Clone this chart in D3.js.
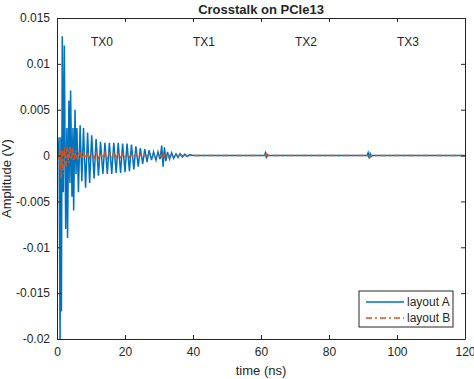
<head>
    <meta charset="utf-8">
    <script src="https://cdn.jsdelivr.net/npm/d3@7"></script>
    <style>
        body { margin: 0; background: #fff; }
        svg text { font-family: "Liberation Sans", Arial, sans-serif; fill: #262626; }
    </style>
</head>

<body>
    <div id="chart"></div>
</body>

<script>
    // series: [time ns, amplitude V]
    const layoutA = [
        [0, 0], [0.4, 0], [0.6, 0.002], [0.9, -0.0205], [1.15, 0.002], [1.3, -0.017],
        [1.55, 0.013], [1.85, -0.004], [2.15, 0.012], [2.55, -0.008], [2.9, 0.003],
        [3.1, -0.009], [3.5, 0.006], [3.8, -0.003], [4.0, 0.0071], [4.4, -0.0045],
        [4.7, 0.003], [4.9, -0.006], [5.3, 0.005], [5.6, -0.002], [5.85, 0.003],
        [6.3, -0.004], [6.8, 0.0033], [7.3, -0.0028], [7.8, 0.003], [8.4, -0.0035],
        [9.0, 0.0025], [9.6, -0.003], [10.2, 0.0022], [10.9, -0.0025], [11.5, 0.0018],
        [12.2, -0.0022], [12.8, 0.0015], [13.5, -0.002], [14.1, 0.0014], [14.8, -0.002],
        [15.4, 0.0014], [16.1, -0.002], [16.7, 0.0014], [17.4, -0.0019], [18.0, 0.0014],
        [18.7, -0.0019], [19.3, 0.0013], [20.0, -0.0018], [20.6, 0.0013], [21.3, -0.0017],
        [21.9, 0.0012], [22.6, -0.0015], [23.2, 0.001], [23.9, -0.0012], [24.5, 0.0008],
        [25.2, -0.0009], [25.8, 0.0007], [26.5, -0.0007], [27.1, 0.0006], [27.8, -0.0005],
        [28.4, 0.0004], [29.1, -0.0005], [29.7, 0.0004], [30.3, -0.0004], [30.8, 0.0011],
        [31.2, -0.0012], [31.6, 0.0009], [32.0, -0.0006], [32.5, 0.0004], [33.1, -0.0004],
        [33.7, 0.0003], [34.3, -0.0003], [35.0, 0.0002], [35.6, -0.0002], [36.2, 0.0002],
        [36.9, -0.00015], [37.6, 0.00015], [38.3, -0.0001], [39.0, 0.0001], [40.0, 0],
        [61.0, 0], [61.3, 0.0003], [61.6, -0.0003], [61.9, 0.0001], [62.2, 0],
        [91.2, 0], [91.5, 0.0003], [91.8, -0.0003], [92.1, 0.0002], [92.4, -0.0001], [92.7, 0],
        [120, 0]
    ];
    const layoutB = [
        [0, 0], [0.5, 0], [0.8, -0.001], [1.0, 0.0008], [1.2, -0.0025], [1.5, 0.0005],
        [1.8, -0.002], [2.2, 0.0009], [2.6, -0.0012], [3.0, 0.001], [3.4, -0.0008],
        [3.8, 0.0011], [4.2, -0.0005], [4.6, 0.0009], [5.0, -0.0006], [5.5, 0.0006],
        [6.0, -0.0004], [6.6, 0.0005], [7.2, -0.0004], [7.8, 0.0004], [8.4, -0.0003],
        [9.0, 0.0003], [9.6, -0.0003], [10.2, 0.0003], [10.9, -0.0003], [11.5, 0.0003],
        [12.2, -0.0003], [12.8, 0.0003], [13.5, -0.0003], [14.1, 0.0003], [14.8, -0.0003],
        [15.4, 0.0003], [16.1, -0.0003], [16.7, 0.0003], [17.4, -0.0002], [18.0, 0.0002],
        [18.7, -0.0002], [19.3, 0.0002], [20.0, -0.0002], [20.6, 0.0002], [21.3, -0.0002],
        [21.9, 0.0002], [22.6, -0.0002], [23.2, 0.0002], [23.9, -0.0002], [24.5, 0.0001],
        [25.2, -0.0001], [26.0, 0], [30.6, 0], [30.9, -0.0004], [31.2, 0.0004],
        [31.5, -0.0003], [31.8, 0.0002], [32.2, 0], [61.2, 0], [61.5, 0.0002],
        [61.8, -0.0002], [62.1, 0], [91.4, 0], [91.7, 0.0002], [92.0, -0.0002], [92.3, 0],
        [120, 0]
    ];
    const xTicks = [0, 20, 40, 60, 80, 100, 120];
    const yTicks = [-0.02, -0.015, -0.01, -0.005, 0, 0.005, 0.01, 0.015];
    const txLabels = ["TX0", "TX1", "TX2", "TX3"];
    const txPos = [10, 40, 70, 100];

    const W = 474, H = 379;
    const m = { left: 57, right: 9, top: 18, bottom: 40 };

    const svg = d3.select("#chart").append("svg")
        .attr("width", W).attr("height", H);

    const x = d3.scaleLinear().domain([0, 120]).range([m.left, W - m.right]);
    const y = d3.scaleLinear().domain([-0.02, 0.015]).range([H - m.bottom, m.top]);

    svg.append("clipPath").attr("id", "clip")
        .append("rect")
        .attr("x", m.left).attr("y", m.top)
        .attr("width", x(120) - m.left).attr("height", y(-0.02) - m.top);

    const line = d3.line().x(d => x(d[0])).y(d => y(d[1]));

    const plot = svg.append("g").attr("clip-path", "url(#clip)");
    plot.append("path").datum(layoutA)
        .attr("d", line).attr("fill", "none")
        .attr("stroke", "#0072BD").attr("stroke-width", 1.5)
        .attr("stroke-linejoin", "miter");
    plot.append("path").datum(layoutB)
        .attr("d", line).attr("fill", "none")
        .attr("stroke", "#D95319").attr("stroke-width", 1.5)
        .attr("stroke-dasharray", "6,3,2,3");

    // axes, MATLAB style box with inward ticks
    const fmt = d => String(+d.toFixed(3));   // plain hyphen like the original
    const axis = (g, gen) => {
        g.call(gen);
        g.select(".domain").attr("stroke", "#262626");
        g.selectAll(".tick line").attr("stroke", "#262626");
        g.selectAll("text").attr("font-size", 12).attr("font-family", "Liberation Sans, Arial, sans-serif").attr("fill", "#262626");
    };
    svg.append("g").attr("transform", `translate(0,${y(-0.02)})`)
        .call(g => axis(g, d3.axisBottom(x).tickValues(xTicks).tickSizeInner(-4).tickSizeOuter(0).tickPadding(8)));
    svg.append("g").attr("transform", `translate(0,${m.top})`)
        .call(g => axis(g, d3.axisTop(x).tickValues(xTicks).tickSizeInner(-4).tickSizeOuter(0).tickFormat("")));
    svg.append("g").attr("transform", `translate(${m.left},0)`)
        .call(g => axis(g, d3.axisLeft(y).tickValues(yTicks).tickSizeInner(-4).tickSizeOuter(0).tickPadding(7).tickFormat(fmt)));
    svg.append("g").attr("transform", `translate(${x(120)},0)`)
        .call(g => axis(g, d3.axisRight(y).tickValues(yTicks).tickSizeInner(-4).tickSizeOuter(0).tickFormat("")));

    // TX labels
    svg.selectAll(".tx").data(txLabels).enter().append("text")
        .attr("x", (d, i) => x(txPos[i]))
        .attr("y", y(0.0124))
        .attr("dy", "0.35em")
        .attr("font-size", 12)
        .text(d => d);

    svg.append("text").attr("x", (m.left + x(120)) / 2).attr("y", 14)
        .attr("text-anchor", "middle").attr("font-size", 13).attr("font-weight", "bold")
        .text("Crosstalk on PCIe13");
    svg.append("text").attr("x", (m.left + x(120)) / 2).attr("y", 375)
        .attr("text-anchor", "middle").attr("font-size", 13)
        .text("time (ns)");
    svg.append("text").attr("transform", `translate(11,${(m.top + y(-0.02)) / 2}) rotate(-90)`)
        .attr("text-anchor", "middle").attr("font-size", 13)
        .text("Amplitude (V)");

    // legend
    const lg = svg.append("g").attr("transform", "translate(359,291)");
    lg.append("rect").attr("width", 94).attr("height", 36)
        .attr("fill", "#fff").attr("stroke", "#262626").attr("stroke-width", 1);
    const items = [["layout A", "#0072BD", null], ["layout B", "#D95319", "6,3,2,3"]];
    items.forEach((it, i) => {
        const yy = 11 + i * 16;
        lg.append("line").attr("x1", 7).attr("x2", 45).attr("y1", yy).attr("y2", yy)
            .attr("stroke", it[1]).attr("stroke-width", 1.5)
            .attr("stroke-dasharray", it[2]);
        lg.append("text").attr("x", 48).attr("y", yy).attr("dy", "0.35em")
            .attr("font-size", 12).text(it[0]);
    });
</script>
